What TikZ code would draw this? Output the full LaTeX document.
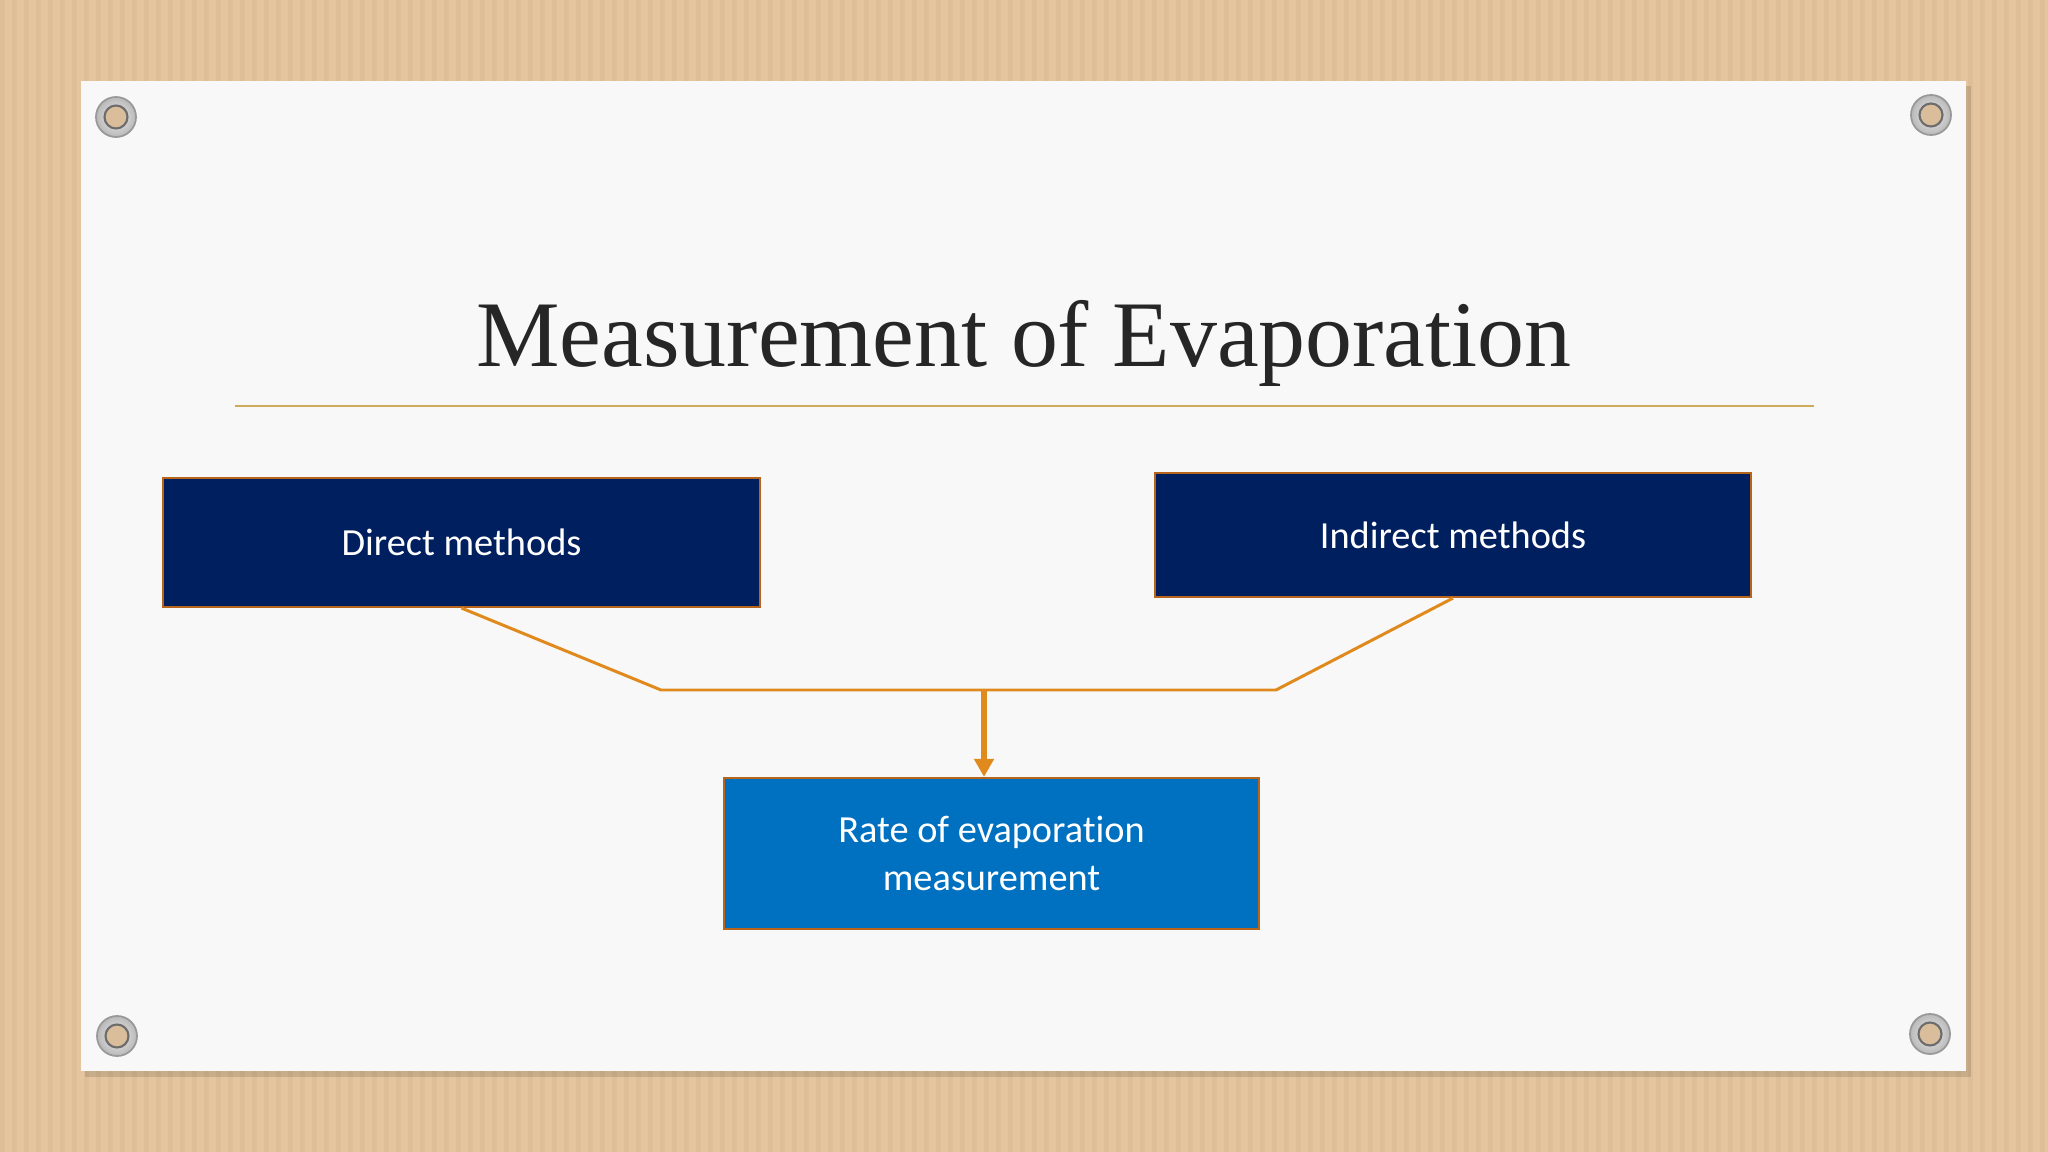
\documentclass[tikz,border=0pt]{standalone}
\usepackage{fontspec}
\setmainfont{Liberation Serif}
\newfontfamily\boxfont[Ligatures=NoCommon]{Carlito}
\usepackage{xcolor}
\usetikzlibrary{arrows.meta,calc,positioning}
\definecolor{mcard}{HTML}{E4C59F}
\definecolor{mstripe}{HTML}{D2AE84}
\definecolor{mpaper}{HTML}{F8F8F8}
\definecolor{mnavy}{HTML}{001F5F}
\definecolor{mblue}{HTML}{0070C0}
\definecolor{medge}{HTML}{B8651B}
\definecolor{morange}{HTML}{E08A1E}
\definecolor{mgold}{HTML}{CDAA5C}
\tikzstyle{method}=[rectangle, draw=medge, line width=0.6pt, text=white, font=\boxfont\fontsize{10.9}{13.4}\selectfont, align=center, inner sep=0pt]
\tikzstyle{l1}=[draw=morange, line width=0.85pt]
\tikzstyle{grommet}=[circle, draw=gray!80, line width=0.5pt, inner color=gray!15, outer color=gray!55, minimum size=0.4cm, inner sep=0pt]
\tikzstyle{hole}=[circle, draw=gray!85!black, line width=0.6pt, fill=mcard!90!gray, minimum size=0.23cm, inner sep=0pt]

\begin{document}
\begin{tikzpicture}[x=0.01cm,y=-0.01cm]
    \useasboundingbox (0,0) rectangle (2048,1152);
    % cardboard
    \fill[mcard] (0,0) rectangle (2048,1152);
    \foreach \i in {0,12,...,2048}
        \fill[mstripe, opacity=0.3] (\i,0) rectangle +(5,1152);
    % paper sheet
    \fill[black, opacity=0.12] (85,86) rectangle (1971,1077);
    \fill[mpaper] (81,81) rectangle (1966,1071);

    % grommets
    \foreach \gx/\gy/\gn in {116/117/tl, 1931/115/tr, 117/1036/bl, 1930/1034/br}{
        \node[grommet] (g\gn) at (\gx,\gy) {};
        \node[hole] at (g\gn) {};
    }

    \node[font=\fontsize{26.7}{32}\selectfont, text=black!85] (title) at (1024,343) {Measurement of Evaporation};
    \draw[mgold, line width=0.6pt] (235,406) -- (1814,406);

    \node[method, fill=mnavy, minimum width=5.97cm, minimum height=1.29cm] (direct) at (461.5,542.5) {Direct methods};
    \node[method, fill=mnavy, minimum width=5.96cm, minimum height=1.24cm] (indirect) at (1453,535) {Indirect methods};
    \node[method, fill=mblue, minimum width=5.35cm, minimum height=1.51cm] (rate) at (991.5,853.5) {Rate of evaporation\\measurement};

    \coordinate (jl) at (661,690);
    \coordinate (jr) at (1276,690);
    \coordinate (jm) at (984,690);
    \draw[l1] (direct.south) -- (jl) -- (jr) -- (indirect.south);
    \draw[l1, line width=1.7pt, -{Triangle[width=5.4pt,length=5.1pt]}] (jm) -- (jm |- rate.north);
\end{tikzpicture}
\end{document}
